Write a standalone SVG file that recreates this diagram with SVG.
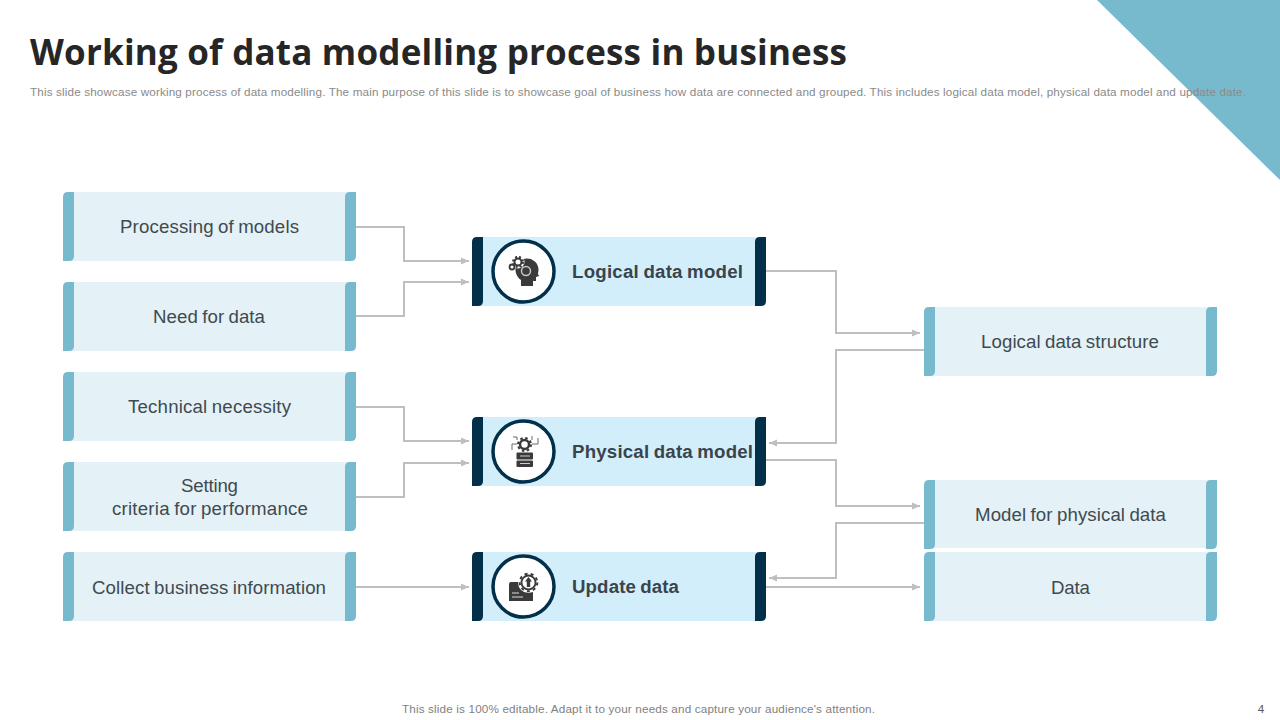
<svg xmlns="http://www.w3.org/2000/svg" width="1280" height="720" viewBox="0 0 1280 720">
<defs>
<marker id="arrow" markerUnits="userSpaceOnUse" markerWidth="8" markerHeight="8" refX="8" refY="4" orient="auto"><path d="M0,0.5 L8,4 L0,7.5 Z" fill="#bfbfbf"/></marker>
<path id="lb" d="M5,0 H11 V64 Q11,69 6,69 H0 V5 Q0,0 5,0 Z"/>
</defs>
<style>
text{font-family:"Liberation Sans",Arial,sans-serif}
.l{fill:#e4f1f6}.m{fill:#d3eefb}.lb{fill:#78bacd}.db{fill:#022f49}
.t{font-size:18.67px;fill:#3f4a50;word-spacing:-1px}
.b{font-size:18.67px;font-weight:700;fill:#3a444b;word-spacing:-1px}
.c{fill:none;stroke:#bfbfbf;stroke-width:2}
.ring{fill:#fff;stroke:#022f49;stroke-width:3.5}
.ic{fill:#3a3a3a}
.ico{fill:none;stroke:#6a6a6a;stroke-width:1}
.teeth{fill:none;stroke:#3a3a3a}
</style>
<rect width="1280" height="720" fill="#fff"/>
<path d="M1097,0 H1280 V180 Z" fill="#78bacd"/>
<text id="title" x="30" y="65" font-size="35" font-weight="700" fill="#262626" style="font-family:'Open Sans','Liberation Sans',sans-serif" textLength="817">Working of data modelling process in business</text>
<text id="subtitle" x="30" y="96" font-size="11.7" fill="#8a8a8a" textLength="1216">This slide showcase working process of data modelling. The main purpose of this slide is to showcase goal of business how data are connected and grouped. This includes logical data model, physical data model and update date.</text>
<g id="connectors">
<path class="c" marker-end="url(#arrow)" d="M356,227 H404 V261 H469"/>
<path class="c" marker-end="url(#arrow)" d="M356,316 H404 V282 H469"/>
<path class="c" marker-end="url(#arrow)" d="M356,407 H404 V441 H469"/>
<path class="c" marker-end="url(#arrow)" d="M356,497 H404 V463 H469"/>
<path class="c" marker-end="url(#arrow)" d="M356,587 H469"/>
<path class="c" marker-end="url(#arrow)" d="M766,271 H836 V333 H920"/>
<path class="c" marker-end="url(#arrow)" d="M924,350 H836 V443 H769"/>
<path class="c" marker-end="url(#arrow)" d="M766,460 H836 V506 H920"/>
<path class="c" marker-end="url(#arrow)" d="M924,523 H836 V578 H769"/>
<path class="c" marker-end="url(#arrow)" d="M766,587 H920"/>
</g>
<g id="n1"><rect class="l" x="68" y="192" width="283" height="69"/><use href="#lb" class="lb" x="63" y="192"/><use href="#lb" class="lb" x="345" y="192"/><text class="t" x="120" y="233" textLength="179">Processing of models</text></g>
<g id="n2"><rect class="l" x="68" y="282" width="283" height="69"/><use href="#lb" class="lb" x="63" y="282"/><use href="#lb" class="lb" x="345" y="282"/><text class="t" x="153" y="323" textLength="112">Need for data</text></g>
<g id="n3"><rect class="l" x="68" y="372" width="283" height="69"/><use href="#lb" class="lb" x="63" y="372"/><use href="#lb" class="lb" x="345" y="372"/><text class="t" x="128" y="413" textLength="163">Technical necessity</text></g>
<g id="n4"><rect class="l" x="68" y="462" width="283" height="69"/><use href="#lb" class="lb" x="63" y="462"/><use href="#lb" class="lb" x="345" y="462"/><text class="t" x="181" y="492" textLength="57">Setting</text><text class="t" x="112" y="515" textLength="196">criteria for performance</text></g>
<g id="n5"><rect class="l" x="68" y="552" width="283" height="69"/><use href="#lb" class="lb" x="63" y="552"/><use href="#lb" class="lb" x="345" y="552"/><text class="t" x="92" y="594" textLength="234">Collect business information</text></g>
<g id="m1"><rect class="m" x="477" y="237" width="284" height="69"/><use href="#lb" class="db" x="472" y="237"/><use href="#lb" class="db" x="755" y="237"/><circle class="ring" cx="523.500" cy="271.500" r="30.500"/>
<circle class="ic" cx="527" cy="270" r="11.500"/><path class="ic" d="M521,278 V286 H533 V281 H536 V277 L539,276 L536,270 Z"/><circle cx="526" cy="271" r="4.500" fill="none" stroke="#c8c8c8" stroke-width="1.500"/><circle cx="518" cy="262" r="6.500" fill="#fff"/><circle cx="518" cy="262" r="3.500" fill="none" stroke="#3a3a3a" stroke-width="2"/><circle class="teeth" cx="518" cy="262" r="5" stroke-width="2" stroke-dasharray="2 2"/><circle cx="512" cy="267" r="2.500" fill="none" stroke="#3a3a3a" stroke-width="1.800"/>
<text class="b" x="572" y="278" textLength="171">Logical data model</text></g>
<g id="m2"><rect class="m" x="477" y="417" width="284" height="69"/><use href="#lb" class="db" x="472" y="417"/><use href="#lb" class="db" x="755" y="417"/><circle class="ring" cx="523.500" cy="451.500" r="30.500"/>
<circle cx="524.500" cy="444.500" r="4.500" fill="none" stroke="#3a3a3a" stroke-width="2.500"/><circle class="teeth" cx="524.500" cy="444.500" r="6.500" stroke-width="2" stroke-dasharray="2.500 2.600"/><path class="ico" d="M517,444 H512 V450 M532,444 H538 V438 M517,440 V437 H513 M532,440 V436"/><rect class="ic" x="516.500" y="452.500" width="16.500" height="7" rx="1"/><rect class="ic" x="516.500" y="460.500" width="16.500" height="6.500" rx="1"/><path d="M520,456 H530 M520,463.500 H530" stroke="#ccc" stroke-width="1"/>
<text class="b" x="572" y="458" textLength="181">Physical data model</text></g>
<g id="m3"><rect class="m" x="477" y="552" width="284" height="69"/><use href="#lb" class="db" x="472" y="552"/><use href="#lb" class="db" x="755" y="552"/><circle class="ring" cx="523.500" cy="586.500" r="30.500"/>
<path class="ic" d="M509,584 Q509,582 511,582 H519 L522,585 H533 V601 H509 Z"/><path d="M512,593 H519 M512,597 H523" stroke="#ddd" stroke-width="1"/><circle cx="528.500" cy="582.500" r="10.500" fill="#fff"/><circle cx="528.500" cy="582.500" r="7" fill="none" stroke="#3a3a3a" stroke-width="1.800"/><circle class="teeth" cx="528.500" cy="582.500" r="8.800" stroke-width="2" stroke-dasharray="3 3.200"/><path class="ic" d="M528.500,577 L532,581.500 H530.200 V587 H526.800 V581.500 H525 Z"/>
<text class="b" x="572" y="593" textLength="107">Update data</text></g>
<g id="r1"><rect class="l" x="929" y="307" width="283" height="69"/><use href="#lb" class="lb" x="924" y="307"/><use href="#lb" class="lb" x="1206" y="307"/><text class="t" x="981" y="348" textLength="178">Logical data structure</text></g>
<g id="r2"><rect class="l" x="929" y="480" width="283" height="68"/><use href="#lb" class="lb" x="924" y="480"/><use href="#lb" class="lb" x="1206" y="480"/><text class="t" x="975" y="521" textLength="191">Model for physical data</text></g>
<g id="r3"><rect class="l" x="929" y="552" width="283" height="69"/><use href="#lb" class="lb" x="924" y="552"/><use href="#lb" class="lb" x="1206" y="552"/><text class="t" x="1051" y="594" textLength="39">Data</text></g>
<text id="footer" x="402" y="713" font-size="11.700" fill="#7f7f7f" textLength="473">This slide is 100% editable. Adapt it to your needs and capture your audience's attention.</text>
<text id="page" x="1261" y="713" font-size="11.700" fill="#595959" text-anchor="middle">4</text>
</svg>
